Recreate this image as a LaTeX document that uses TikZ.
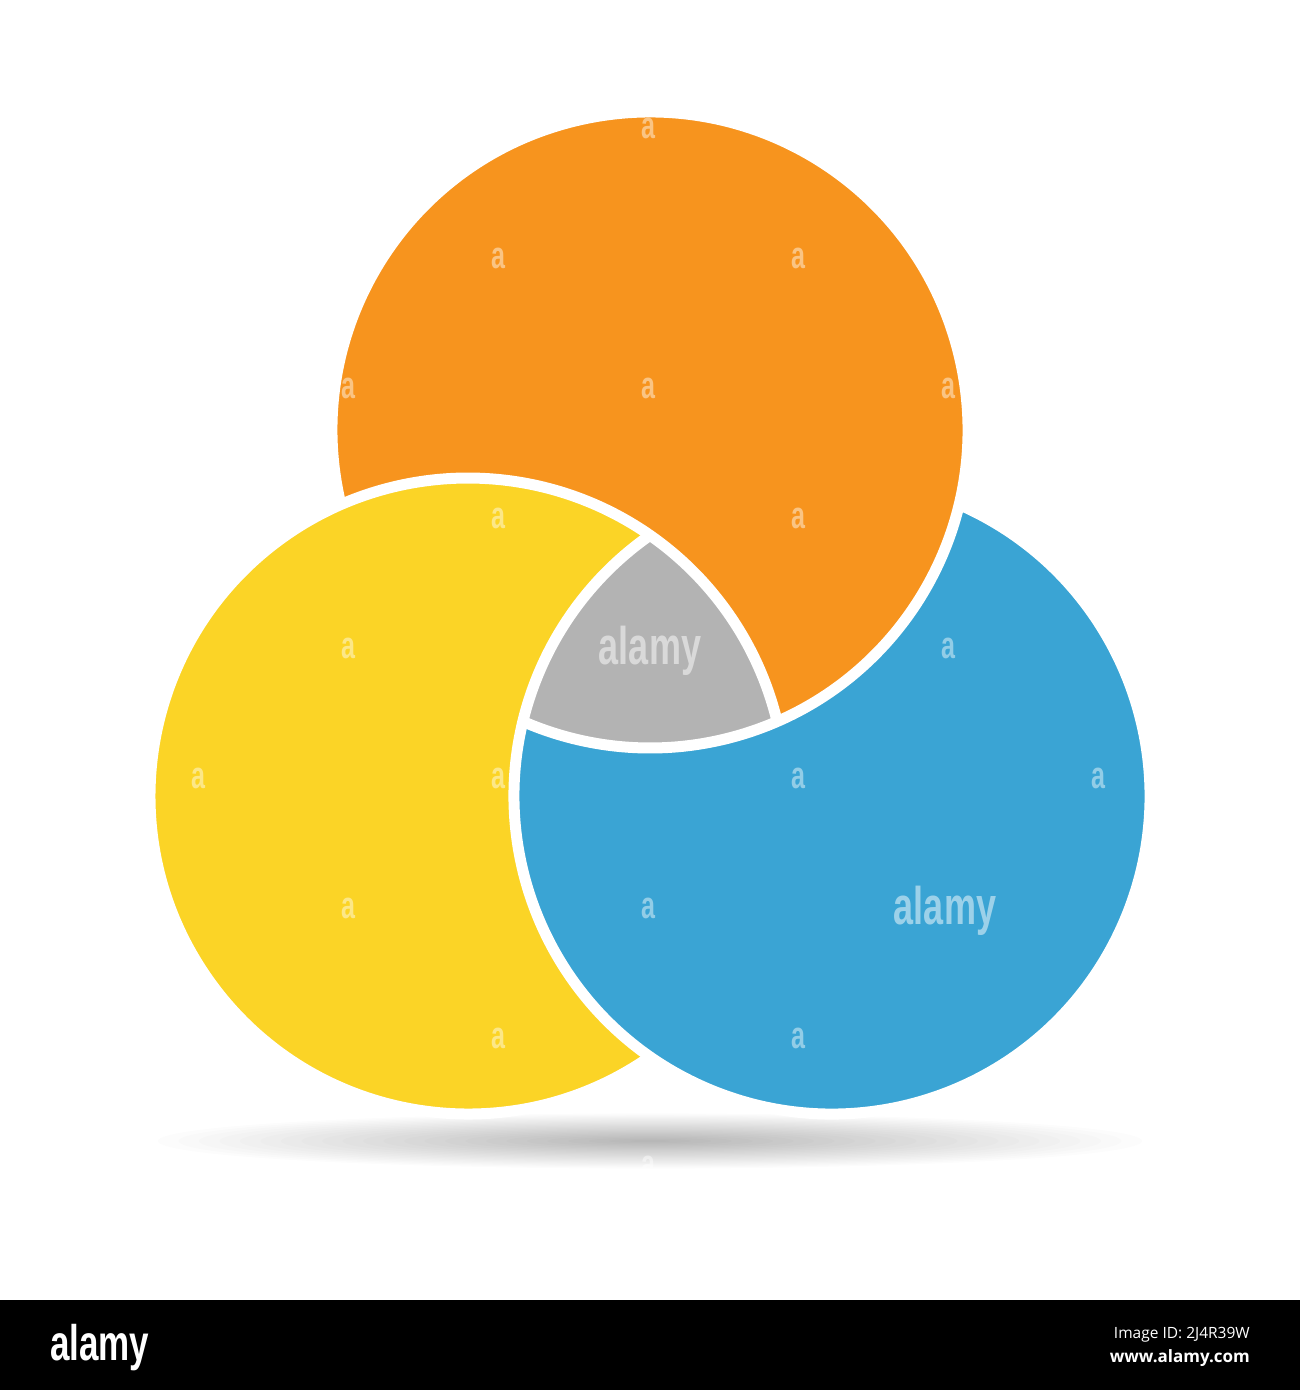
\documentclass[tikz,border=0pt]{standalone}
\usepackage{fontspec}
\usepackage{graphicx}
\setmainfont{Liberation Sans}
\newfontfamily\logofont{Liberation Sans}
\newfontfamily\footfont{Open Sans}
\definecolor{corange}{HTML}{F7941E}
\definecolor{cyellow}{HTML}{FBD426}
\definecolor{cblue}{HTML}{3AA4D4}
\definecolor{cgrey}{HTML}{B3B3B3}
\tikzset{
  ring/.style={draw=white, line width=11pt},
  shadowlayer/.style={fill=black, fill opacity=0.012},
  wmark/.style={text=white, text opacity=0.45, inner sep=0pt, font=\logofont\bfseries\fontsize{38}{38}\selectfont},
  wlogo/.style={text=white, text opacity=0.5, inner sep=0pt, font=\logofont\bfseries\fontsize{53}{53}\selectfont},
  footlogo/.style={text=white, inner sep=0pt, font=\logofont\bfseries\fontsize{50}{50}\selectfont},
  footid/.style={text=white, inner sep=0pt, font=\footfont\fontsize{15.5}{15.5}\selectfont},
  footurl/.style={text=white, inner sep=0pt, font=\footfont\bfseries\fontsize{17}{17}\selectfont},
}
\begin{document}
\begin{tikzpicture}[x=1pt,y=-1pt]
\fill[white] (0,0) rectangle (1300,1390);
\useasboundingbox (0,0) rectangle (1300,1390);
% soft shadow (stacked translucent ellipses)
\foreach \i in {1,...,24}
  \path[shadowlayer] (650,1141) ellipse[x radius={20.5*\i}, y radius={1.15*\i}];
% centres
\coordinate (O) at (650,430);
\coordinate (Y) at (468,796);
\coordinate (B) at (832,796);
% fills
\fill[cblue] (B) circle[radius=318];
\fill[corange] (O) circle[radius=318];
\fill[cyellow] (Y) circle[radius=318];
\begin{scope}
  \clip (Y) circle[radius=321];
  \fill[cblue] (B) circle[radius=318];
\end{scope}
\begin{scope}
  \clip (Y) circle[radius=318];
  \clip (B) circle[radius=318];
  \fill[cgrey] (O) circle[radius=318];
\end{scope}
% visible white borders
\draw[ring, shift={(O)}] (166.45:318) arc[start angle=166.45, end angle=473.57, radius=318];
\draw[ring, shift={(Y)}] (55.09:318) arc[start angle=55.09, end angle=346.45, radius=318];
\draw[ring, shift={(B)}] (-66.43:318) arc[start angle=-66.43, end angle=235.09, radius=318];
% watermarks
\foreach \x/\y [count=\i] in {648/128, 498/258, 798/258, 348/388, 648/388, 948/388,
   498/518, 798/518, 348/648, 948/648, 198/778, 498/778, 798/778, 1098/778,
   348/908, 648/908, 498/1038, 798/1038, 648/1166}
  \node[wmark] (wa\i) at (\x,\y) {\scalebox{0.66}[1]{a}};
\node[wlogo] (wl1) at (650,651) {\scalebox{0.68}[1]{alamy}};
\node[wlogo] (wl2) at (945,911) {\scalebox{0.68}[1]{alamy}};
% footer
\fill[black] (0,1300) rectangle (1300,1390);
\node[footlogo, anchor=base west] (flogo) at (50,1360) {\scalebox{0.70}[1]{alamy}};
\node[footid, anchor=base east] (fid) at (1250,1338) {Image ID: 2J4R39W};
\node[footurl, anchor=base east] (furl) at (1250,1362) {www.alamy.com};
\end{tikzpicture}
\end{document}
